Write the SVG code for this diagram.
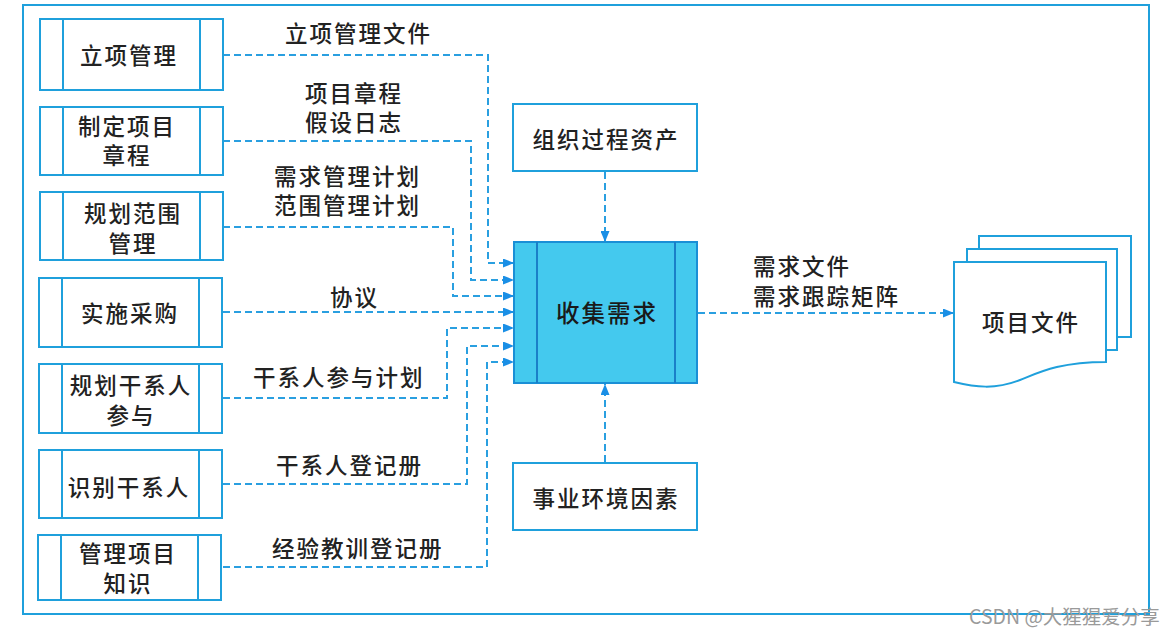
<svg xmlns="http://www.w3.org/2000/svg" width="1176" height="636" viewBox="0 0 1176 636">
<style>
  .box { fill: #ffffff; stroke: #1fa0dc; stroke-width: 2; }
  .core { fill: #44c9ee; stroke: #1a8fd6; stroke-width: 2; }
  .sep { stroke: #1fa0dc; stroke-width: 2; fill: none; }
  .coresep { stroke: #1a7fc8; stroke-width: 2; fill: none; }
  .t { font-family: "Noto Sans CJK SC", "Noto Sans", sans-serif; font-size: 22.5px; font-weight: 500; fill: #222; letter-spacing: 2px; text-anchor: middle; dominant-baseline: central; }
  .lbl { font-family: "Noto Sans CJK SC", "Noto Sans", sans-serif; font-size: 22.5px; font-weight: 500; fill: #222; letter-spacing: 2px; dominant-baseline: central; }
  .conn { fill: none; stroke: #2a9fe0; stroke-width: 2; stroke-dasharray: 7 4; marker-end: url(#arr); }
  .wm { font-family: "Noto Sans CJK SC", "Liberation Sans", sans-serif; font-size: 19.5px; fill: #9a9a9a; dominant-baseline: central; }
</style>
<defs>
  <marker id="arr" markerUnits="userSpaceOnUse" markerWidth="11" markerHeight="9" viewBox="0 0 11 9" refX="11" refY="4.5" orient="auto">
    <path d="M0,0 L11,4.5 L0,9 Z" fill="#1a8fe6"/>
  </marker>
</defs>
<rect width="1176" height="636" fill="#ffffff"/>
<rect id="frame" x="23" y="5" width="1126" height="609" fill="none" stroke="#1fa0dc" stroke-width="2"/>

<g id="connectors">
  <path class="conn" d="M223,55 H488 V263 H514"/>
  <path class="conn" d="M223,141 H471 V280 H514"/>
  <path class="conn" d="M223,227 H453 V296 H514"/>
  <path class="conn" d="M223,312 H514"/>
  <path class="conn" d="M223,398 H447 V328 H514"/>
  <path class="conn" d="M223,484 H467 V346 H514"/>
  <path class="conn" d="M223,567 H487 V362 H514"/>
  <path class="conn" d="M605,172 V242"/>
  <path class="conn" d="M605,462 V384"/>
  <path class="conn" d="M698,313 H954"/>
</g>

<g id="connector-labels">
  <text class="lbl" x="285" y="32">立项管理文件</text>
  <text class="lbl" x="305" y="92">项目章程</text>
  <text class="lbl" x="305" y="121">假设日志</text>
  <text class="lbl" x="274" y="175">需求管理计划</text>
  <text class="lbl" x="274" y="204">范围管理计划</text>
  <text class="lbl" x="330" y="296">协议</text>
  <text class="lbl" x="253" y="376">干系人参与计划</text>
  <text class="lbl" x="276" y="464">干系人登记册</text>
  <text class="lbl" x="272" y="547">经验教训登记册</text>
  <text class="lbl" x="753" y="265">需求文件</text>
  <text class="lbl" x="753" y="295">需求跟踪矩阵</text>
</g>

<g id="n-lixiang">
  <rect class="box" x="40" y="19" width="183" height="71"/>
  <path class="sep" d="M63,19 V90 M200,19 V90"/>
  <text class="t" x="129" y="54">立项管理</text>
</g>
<g id="n-zhangcheng">
  <rect class="box" x="40" y="107" width="183" height="68"/>
  <path class="sep" d="M63,107 V175 M200,107 V175"/>
  <text class="t" x="127" y="125">制定项目</text>
  <text class="t" x="127" y="154">章程</text>
</g>
<g id="n-fanwei">
  <rect class="box" x="40" y="192" width="183" height="68"/>
  <path class="sep" d="M63,192 V260 M200,192 V260"/>
  <text class="t" x="133" y="212">规划范围</text>
  <text class="t" x="133" y="242">管理</text>
</g>
<g id="n-caigou">
  <rect class="box" x="39" y="278" width="183" height="69"/>
  <path class="sep" d="M62,278 V347 M199,278 V347"/>
  <text class="t" x="130" y="312">实施采购</text>
</g>
<g id="n-canyu">
  <rect class="box" x="39" y="364" width="183" height="69"/>
  <path class="sep" d="M62,364 V433 M199,364 V433"/>
  <text class="t" x="131" y="384">规划干系人</text>
  <text class="t" x="131" y="414">参与</text>
</g>
<g id="n-shibie">
  <rect class="box" x="39" y="450" width="183" height="68"/>
  <path class="sep" d="M62,450 V518 M199,450 V518"/>
  <text class="t" x="129" y="486">识别干系人</text>
</g>
<g id="n-zhishi">
  <rect class="box" x="38" y="535" width="183" height="65"/>
  <path class="sep" d="M61,535 V600 M198,535 V600"/>
  <text class="t" x="128" y="552">管理项目</text>
  <text class="t" x="128" y="582">知识</text>
</g>

<g id="n-zuzhi">
  <rect class="box" x="513" y="104" width="184" height="67"/>
  <text class="t" x="606" y="138">组织过程资产</text>
</g>
<g id="n-core">
  <rect class="core" x="514" y="242" width="183" height="141"/>
  <path class="coresep" d="M537,242 V383 M675,242 V383"/>
  <text class="t" x="607" y="312" style="fill:#1a1a1a;font-size:23.5px">收集需求</text>
</g>
<g id="n-shiye">
  <rect class="box" x="513" y="463" width="184" height="67"/>
  <text class="t" x="606" y="497">事业环境因素</text>
</g>

<g id="n-docs">
  <path class="box" d="M979,249 V236 H1131 V337 H1117"/>
  <path class="box" d="M967,262 V249 H1117 V350 H1106"/>
  <path class="box" d="M954,262 H1106 V362 C1060,362 1040,372 1020,380 C995,390 975,387 954,382 Z"/>
  <text class="t" x="1031" y="321">项目文件</text>
</g>

<text class="wm" x="969" y="615">CSDN @大猩猩爱分享</text>
</svg>
